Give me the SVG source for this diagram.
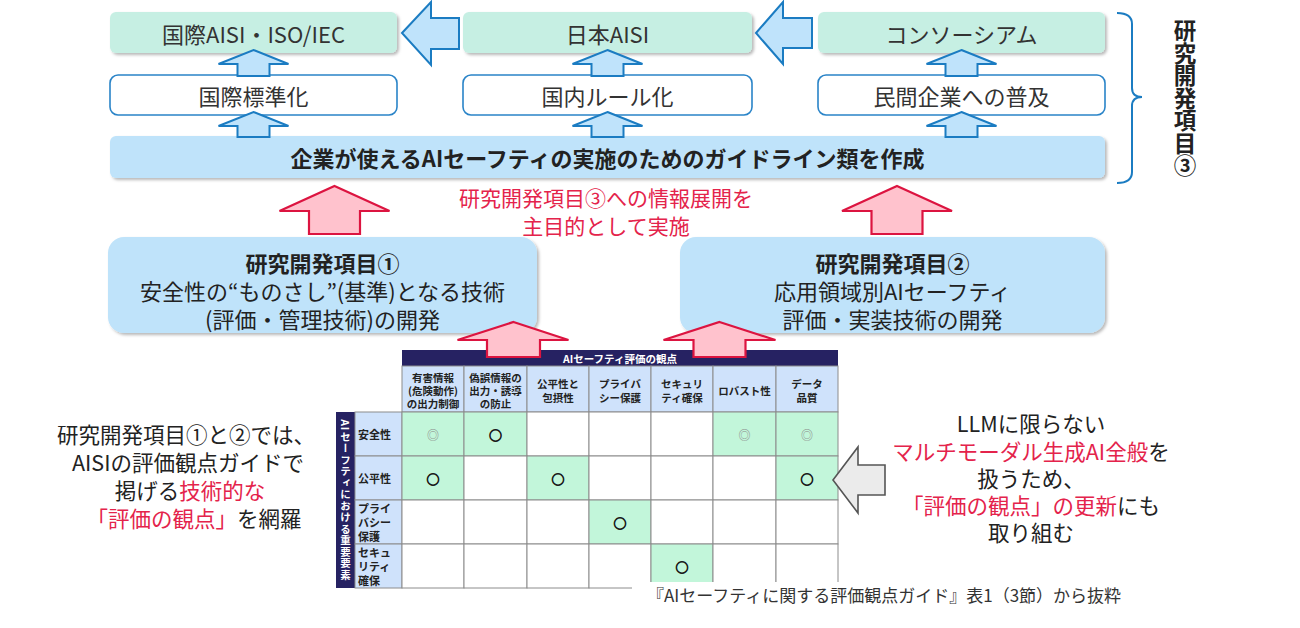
<svg xmlns="http://www.w3.org/2000/svg" width="1300" height="628" viewBox="0 0 1300 628">
<defs>
<filter id="sh" x="-5%" y="-20%" width="110%" height="150%">
<feDropShadow dx="2" dy="2" stdDeviation="1.5" flood-color="#000" flood-opacity="0.28"/>
</filter>
<style>
text{font-family:"Noto Sans CJK JP","Noto Sans",sans-serif;}
.t22{font-size:22px;fill:#333;text-anchor:middle;dominant-baseline:central;}
.b22{font-size:22px;fill:#222;font-weight:bold;text-anchor:middle;dominant-baseline:central;}
.nt{font-size:21.5px;fill:#222;text-anchor:middle;dominant-baseline:central;}
.mint{fill:#c6efe3;}
.wbox{fill:#fff;stroke:#2a84c8;stroke-width:1.6;}
.lbox{fill:#bfe3fa;}
.barrow{fill:#bfe3fb;stroke:#1b7cc2;stroke-width:2;stroke-linejoin:miter;}
.rarrow{fill:#ffc2cd;stroke:#dc1440;stroke-width:2.2;stroke-linejoin:miter;}
.cell{fill:#fff;stroke:#8c8c8c;stroke-width:1;}
.g{fill:#c2f6da;}
.hd{fill:#cfe2fb;}
.th{font-size:10.5px;font-weight:bold;fill:#222;text-anchor:middle;dominant-baseline:central;}
.rh{font-size:11px;font-weight:bold;fill:#222;dominant-baseline:central;}
.sym{font-size:13px;font-weight:bold;fill:#1a1a1a;stroke:#1a1a1a;stroke-width:0.8;text-anchor:middle;dominant-baseline:central;}
.dsym{font-size:12px;fill:#8a8a8a;text-anchor:middle;dominant-baseline:central;}
</style>
</defs>
<rect width="1300" height="628" fill="#fff"/>

<!-- top row -->
<g id="n-kokusai-aisi"><rect class="mint" x="110" y="12" width="287" height="41" rx="6" filter="url(#sh)"/><text class="t22" x="253.5" y="32.5">国際AISI・ISO/IEC</text></g>
<g id="n-nihon-aisi"><rect class="mint" x="463" y="12" width="289" height="41" rx="6" filter="url(#sh)"/><text class="t22" x="607.5" y="32.5">日本AISI</text></g>
<g id="n-consortium"><rect class="mint" x="818" y="12" width="287" height="41" rx="6" filter="url(#sh)"/><text class="t22" x="961.5" y="32.5">コンソーシアム</text></g>

<!-- second row -->
<g id="n-kokusai-hyojun"><rect class="wbox" x="110" y="75" width="287" height="40" rx="8"/><text class="t22" x="253.5" y="95">国際標準化</text></g>
<g id="n-kokunai-rule"><rect class="wbox" x="463" y="75" width="289" height="40" rx="8"/><text class="t22" x="607.5" y="95">国内ルール化</text></g>
<g id="n-minkan"><rect class="wbox" x="818" y="75" width="287" height="40" rx="8"/><text class="t22" x="961.5" y="95">民間企業への普及</text></g>

<!-- third row -->
<g id="n-guideline"><rect class="lbox" x="110" y="136" width="995" height="42" rx="6" filter="url(#sh)"/><text class="b22" x="607.5" y="157">企業が使えるAIセーフティの実施のためのガイドライン類を作成</text></g>

<!-- bracket & vertical label -->
<g id="n-item3-label">
<path d="M1117,13 Q1132,13 1132,24 L1132,88 Q1132,97 1142,97 Q1132,97 1132,106 L1132,172 Q1132,183 1117,183" fill="none" stroke="#1b7cc2" stroke-width="2"/>
<text x="1185" y="98" style="writing-mode:vertical-rl;font-size:22.5px;font-weight:bold;fill:#222;text-anchor:middle;">研究開発項目③</text>
</g>

<!-- red note -->
<g id="n-note-center">
<text class="t22" x="606" y="197" style="font-size:21px;fill:#e4234b">研究開発項目③への情報展開を</text>
<text class="t22" x="606" y="225" style="font-size:21px;fill:#e4234b">主目的として実施</text>
</g>

<!-- item 1 & 2 -->
<g id="n-item1"><rect class="lbox" x="108" y="237" width="429" height="96" rx="16" filter="url(#sh)"/>
<text class="b22" x="322.5" y="262">研究開発項目①</text>
<text class="t22" x="322.5" y="290" style="fill:#222">安全性の“ものさし”(基準)となる技術</text>
<text class="t22" x="322.5" y="318" style="fill:#222">(評価・管理技術)の開発</text></g>
<g id="n-item2"><rect class="lbox" x="680" y="237" width="425" height="96" rx="16" filter="url(#sh)"/>
<text class="b22" x="892.5" y="262">研究開発項目②</text>
<text class="t22" x="892.5" y="290" style="fill:#222">応用領域別AIセーフティ</text>
<text class="t22" x="892.5" y="318" style="fill:#222">評価・実装技術の開発</text></g>

<!-- table -->
<g id="n-table">
<rect x="402" y="350" width="436" height="16" fill="#262262"/>
<text x="620" y="358" style="font-size:10.5px;font-weight:bold;fill:#fff;text-anchor:middle;dominant-baseline:central;">AIセーフティ評価の観点</text>
<rect x="336" y="412" width="19" height="176" fill="#262262"/>
<text x="345.5" y="500" style="writing-mode:vertical-rl;font-size:10.5px;font-weight:bold;fill:#fff;text-anchor:middle;letter-spacing:1px;">AIセーフティにおける重要要素</text>
<!-- header cells -->
<rect class="cell hd" x="402" y="366" width="62" height="46"/>
<rect class="cell hd" x="464" y="366" width="63" height="46"/>
<rect class="cell hd" x="527" y="366" width="62" height="46"/>
<rect class="cell hd" x="589" y="366" width="62" height="46"/>
<rect class="cell hd" x="651" y="366" width="62" height="46"/>
<rect class="cell hd" x="713" y="366" width="63" height="46"/>
<rect class="cell hd" x="776" y="366" width="62" height="46"/>
<text class="th" x="433" y="377">有害情報</text><text class="th" x="433" y="390">(危険動作)</text><text class="th" x="433" y="403">の出力制御</text>
<text class="th" x="495.5" y="377">偽誤情報の</text><text class="th" x="495.5" y="390">出力・誘導</text><text class="th" x="495.5" y="403">の防止</text>
<text class="th" x="558" y="383">公平性と</text><text class="th" x="558" y="397">包摂性</text>
<text class="th" x="620" y="383">プライバ</text><text class="th" x="620" y="397">シー保護</text>
<text class="th" x="682" y="383">セキュリ</text><text class="th" x="682" y="397">ティ確保</text>
<text class="th" x="744.5" y="390">ロバスト性</text>
<text class="th" x="807" y="383">データ</text><text class="th" x="807" y="397">品質</text>
<!-- row header cells -->
<rect class="cell hd" x="355" y="412" width="47" height="44"/>
<rect class="cell hd" x="355" y="456" width="47" height="44"/>
<rect class="cell hd" x="355" y="500" width="47" height="44"/>
<rect class="cell hd" x="355" y="544" width="47" height="44"/>
<text class="rh" x="358" y="434">安全性</text>
<text class="rh" x="358" y="478">公平性</text>
<text class="rh" x="358" y="508">プライ</text><text class="rh" x="358" y="522">バシー</text><text class="rh" x="358" y="536">保護</text>
<text class="rh" x="358" y="552">セキュ</text><text class="rh" x="358" y="566">リティ</text><text class="rh" x="358" y="580">確保</text>
<!-- row 1 -->
<rect class="cell g" x="402" y="412" width="62" height="44"/>
<rect class="cell g" x="464" y="412" width="63" height="44"/>
<rect class="cell" x="527" y="412" width="62" height="44"/>
<rect class="cell" x="589" y="412" width="62" height="44"/>
<rect class="cell" x="651" y="412" width="62" height="44"/>
<rect class="cell g" x="713" y="412" width="63" height="44"/>
<rect class="cell g" x="776" y="412" width="62" height="44"/>
<!-- row 2 -->
<rect class="cell g" x="402" y="456" width="62" height="44"/>
<rect class="cell" x="464" y="456" width="63" height="44"/>
<rect class="cell g" x="527" y="456" width="62" height="44"/>
<rect class="cell" x="589" y="456" width="62" height="44"/>
<rect class="cell" x="651" y="456" width="62" height="44"/>
<rect class="cell" x="713" y="456" width="63" height="44"/>
<rect class="cell g" x="776" y="456" width="62" height="44"/>
<!-- row 3 -->
<rect class="cell" x="402" y="500" width="62" height="44"/>
<rect class="cell" x="464" y="500" width="63" height="44"/>
<rect class="cell" x="527" y="500" width="62" height="44"/>
<rect class="cell g" x="589" y="500" width="62" height="44"/>
<rect class="cell" x="651" y="500" width="62" height="44"/>
<rect class="cell" x="713" y="500" width="63" height="44"/>
<rect class="cell" x="776" y="500" width="62" height="44"/>
<!-- row 4 -->
<rect class="cell" x="402" y="544" width="62" height="44"/>
<rect class="cell" x="464" y="544" width="63" height="44"/>
<rect class="cell" x="527" y="544" width="62" height="44"/>
<rect class="cell" x="589" y="544" width="62" height="44"/>
<rect class="cell g" x="651" y="544" width="62" height="44"/>
<rect class="cell" x="713" y="544" width="63" height="44"/>
<rect class="cell" x="776" y="544" width="62" height="44"/>
<!-- symbols -->
<text class="dsym" x="433" y="434">◎</text>
<text class="sym" x="495.5" y="434">○</text>
<text class="dsym" x="744.5" y="434">◎</text>
<text class="dsym" x="807" y="434">◎</text>
<text class="sym" x="433" y="478">○</text>
<text class="sym" x="558" y="478">○</text>
<text class="sym" x="807" y="478">○</text>
<text class="sym" x="620" y="522">○</text>
<text class="sym" x="682" y="566">○</text>
</g>

<!-- caption -->
<g id="n-caption">
<rect x="632" y="582" width="505" height="24" fill="#fff"/>
<text x="884" y="594" style="font-size:17px;fill:#333;text-anchor:middle;dominant-baseline:central;">『AIセーフティに関する評価観点ガイド』表1（3節）から抜粋</text>
</g>

<!-- left note -->
<g id="n-note-left">
<text class="nt" x="186" y="433">研究開発項目①と②では、</text>
<text class="nt" x="188" y="461">AISIの評価観点ガイドで</text>
<text class="nt" x="190" y="489">掲げる<tspan fill="#e4234b">技術的な</tspan></text>
<text class="nt" x="194" y="517" style="fill:#e4234b">「評価の観点」<tspan fill="#222">を網羅</tspan></text>
</g>

<!-- right note -->
<g id="n-note-right">
<text class="nt" x="1031" y="422">LLMに限らない</text>
<text class="nt" x="1031" y="450" style="fill:#e4234b">マルチモーダル生成AI全般<tspan fill="#222">を</tspan></text>
<text class="nt" x="1031" y="477">扱うため、</text>
<text class="nt" x="1031" y="504" style="fill:#e4234b">「評価の観点」の更新<tspan fill="#222">にも</tspan></text>
<text class="nt" x="1031" y="531">取り組む</text>
</g>

<!-- connectors -->
<g id="connectors">
<!-- small blue up arrows -->
<path class="barrow" d="M253.5,50 L288.5,64 L269.5,64 L269.5,76 L237.5,76 L237.5,64 L218.5,64 Z"/>
<path class="barrow" d="M253.5,112 L288.5,126 L269.5,126 L269.5,137 L237.5,137 L237.5,126 L218.5,126 Z"/>
<path class="barrow" d="M607.5,50 L642.5,64 L623.5,64 L623.5,76 L591.5,76 L591.5,64 L572.5,64 Z"/>
<path class="barrow" d="M607.5,112 L642.5,126 L623.5,126 L623.5,137 L591.5,137 L591.5,126 L572.5,126 Z"/>
<path class="barrow" d="M961.5,50 L996.5,64 L977.5,64 L977.5,76 L945.5,76 L945.5,64 L926.5,64 Z"/>
<path class="barrow" d="M961.5,112 L996.5,126 L977.5,126 L977.5,137 L945.5,137 L945.5,126 L926.5,126 Z"/>
<!-- big blue left arrows -->
<path class="barrow" d="M402,33 L431,2 L431,18 L459,18 L459,49 L431,49 L431,65 Z"/>
<path class="barrow" d="M756,33 L783,2 L783,18 L812,18 L812,48 L783,48 L783,64 Z"/>
<!-- red up arrows -->
<path class="rarrow" d="M334.5,186 L389.5,211 L360,211 L360,234 L309,234 L309,211 L279.5,211 Z"/>
<path class="rarrow" d="M897,186 L952,211 L922.5,211 L922.5,234 L871.5,234 L871.5,211 L842,211 Z"/>
<path class="rarrow" d="M513.5,322 L568.5,340 L540,340 L540,357 L487,357 L487,340 L457.5,340 Z"/>
<path class="rarrow" d="M719.5,322 L775.5,340 L745.5,340 L745.5,357 L693.5,357 L693.5,340 L663.5,340 Z"/>
<!-- gray left arrow -->
<path d="M833,480 L858,447 L858,465 L885,465 L885,495 L858,495 L858,513 Z" fill="#ebebeb" stroke="#555" stroke-width="1.6"/>
</g>
</svg>
